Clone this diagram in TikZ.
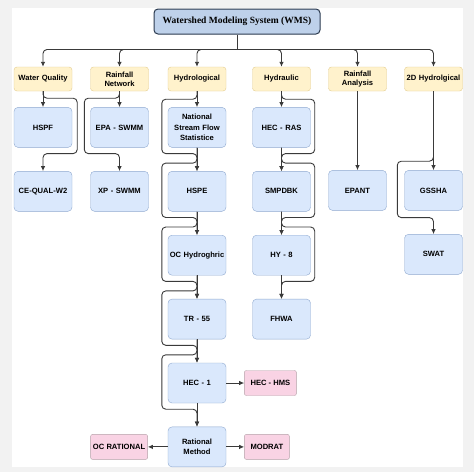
\documentclass[tikz,border=0pt]{standalone}
\usepackage{fontspec}
\setmainfont{Liberation Sans}
\newfontfamily\titlefont{Liberation Serif}
\usepackage{tikz}
\usetikzlibrary{shapes,arrows,positioning,calc}
\usetikzlibrary{arrows.meta}
\definecolor{pagegray}{HTML}{F2F2F2}
\definecolor{edgegray}{HTML}{3A3A3A}
\definecolor{titlefill}{HTML}{BED1EA}
\definecolor{titledraw}{HTML}{2B3A4F}
\definecolor{catfill}{HTML}{FFF2CC}
\definecolor{catdraw}{HTML}{E3CD8F}
\definecolor{toolfill}{HTML}{DAE8FC}
\definecolor{tooldraw}{HTML}{8FA9CF}
\definecolor{sidefill}{HTML}{F9D3E4}
\definecolor{sidedraw}{HTML}{B5A0A8}
\tikzstyle{line} = [draw, -{Latex[length=5pt,width=4.5pt]}, edgegray, line width=0.9pt, rounded corners=4pt]
\tikzstyle{titlebox} = [draw=titledraw, fill=titlefill, line width=1pt, rounded corners=4pt,
  minimum width=166pt, minimum height=25pt, font=\titlefont\bfseries\fontsize{9.5}{11}\selectfont]
\tikzstyle{catbox} = [draw=catdraw, fill=catfill, rounded corners=3pt, minimum width=58pt,
  minimum height=24pt, text width=56pt, inner sep=1pt, align=center,
  font=\bfseries\fontsize{7.6}{9}\selectfont]
\tikzstyle{toolbox} = [draw=tooldraw, fill=toolfill, rounded corners=4pt, minimum width=58pt,
  minimum height=40pt, text width=56pt, inner sep=1pt, align=center,
  font=\bfseries\fontsize{7.6}{10.5}\selectfont]
\tikzstyle{sidebox} = [draw=sidedraw, fill=sidefill, rounded corners=2pt, minimum height=25pt,
  inner sep=1pt, font=\bfseries\fontsize{7.6}{9}\selectfont]
\begin{document}
\begin{tikzpicture}[x=1pt,y=1pt,node distance=23.5pt]

  \useasboundingbox (0,0) rectangle (474,-472);
  \fill [pagegray] (0,0) rectangle (474,-472);
  \fill [white] (12,-8) rectangle (463,-467);

  \node [titlebox] (wms) at (237,-21.5) {Watershed Modeling System (WMS)};

  % categories
  \node [catbox] (wq) at (43,-79) {Water Quality};
  \node [catbox] (rn) at (119.5,-79) {Rainfall\\Network};
  \node [catbox] (hyl) at (197,-79) {Hydrological};
  \node [catbox] (hyd) at (281.5,-79) {Hydraulic};
  \node [catbox] (ra) at (357.5,-79) {Rainfall\\Analysis};
  \node [catbox] (td) at (433.5,-79) {2D Hydrolgical};

  % models
  \node [toolbox, below=16pt of wq] (hspf) {HSPF};
  \node [toolbox, below=of hspf] (ceq) {CE-QUAL-W2};

  \node [toolbox, below=16pt of rn] (epa) {EPA - SWMM};
  \node [toolbox, below=of epa] (xp) {XP - SWMM};

  \node [toolbox, below=16pt of hyl] (nsfs) {National\\Stream Flow\\Statistice};
  \node [toolbox, below=of nsfs] (hspe) {HSPE};
  \node [toolbox, below=of hspe] (och) {OC Hydroghric};
  \node [toolbox, below=of och] (tr) {TR - 55};
  \node [toolbox, below=of tr] (hec1) {HEC - 1};
  \node [toolbox, below=of hec1] (rm) {Rational\\Method};

  \node [toolbox, below=16pt of hyd] (ras) {HEC - RAS};
  \node [toolbox, below=of ras] (smp) {SMPDBK};
  \node [toolbox, below=of smp] (hy8) {HY - 8};
  \node [toolbox, below=of hy8] (fhwa) {FHWA};

  \node [toolbox, below=79pt of ra] (epant) {EPANT};

  \node [toolbox, below=79pt of td] (gssha) {GSSHA};
  \node [toolbox, below=of gssha] (swat) {SWAT};

  \node [sidebox, minimum width=52pt, right=18pt of hec1] (hms) {HEC - HMS};
  \node [sidebox, minimum width=45pt, right=18pt of rm] (modrat) {MODRAT};
  \node [sidebox, minimum width=57pt, left=20pt of rm] (ocr) {OC RATIONAL};

  % tree
  \draw [edgegray, line width=0.9pt] (wms.south) -- ++(0,-15) coordinate (hub);
  \foreach \c in {wq,rn,hyl,hyd,ra,td}
    \path [line] (hub) -| (\c.north);

  \path [line] (wq) -- (hspf);
  \path [line] (rn) -- (epa);
  \path [line] (ra) -- (epant);
  \path [line] (td) -- (gssha);
  \foreach \a/\b in {hyl/nsfs,nsfs/hspe,hspe/och,och/tr,tr/hec1,hec1/rm,hyd/ras,ras/smp,smp/hy8,hy8/fhwa}
    \path [line] (\a) -- (\b);

  % loops round the boxes
  \path [line] (wq.south) -- ([yshift=9pt]hspf.north) -| ([xshift=5pt]hspf.east)
    |- ([yshift=-6pt]hspf.south) -- (ceq.north);
  \path [line] (rn.south) -- ([yshift=9pt]epa.north) -| ([xshift=-6pt]epa.west)
    |- ([yshift=-6pt]epa.south) -- (xp.north);
  \foreach \a/\b/\c in {hyl/nsfs/hspe,nsfs/hspe/och,hspe/och/tr,och/tr/hec1,tr/hec1/rm}
    \path [line] (\a.south) -- ([yshift=8pt]\b.north) -| ([xshift=-6pt]\b.west)
      |- ([yshift=-6pt]\b.south) -- (\c.north);
  \foreach \a/\b/\c in {hyd/ras/smp,ras/smp/hy8,smp/hy8/fhwa}
    \path [line] (\a.south) -- ([yshift=8pt]\b.north) -| ([xshift=4pt]\b.east)
      |- ([yshift=-6pt]\b.south) -- (\c.north);
  \path [line] (td.south) -- ([yshift=9pt]gssha.north) -| ([xshift=-7pt]gssha.west)
    |- ([yshift=-7pt]gssha.south) -- (swat.north);

  \path [line] (hec1) -- (hms);
  \path [line] (rm) -- (modrat);
  \path [line] (rm) -- (ocr);

\end{tikzpicture}
\end{document}
